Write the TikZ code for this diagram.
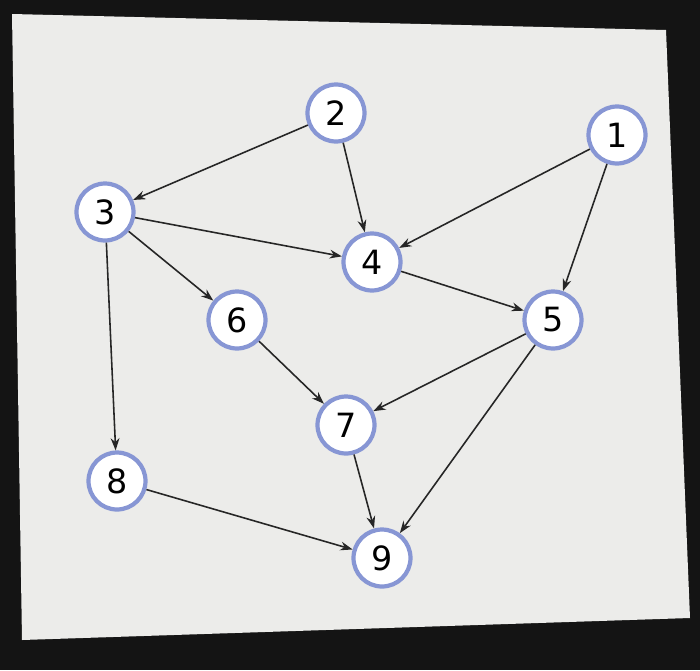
\documentclass[tikz,border=0pt]{standalone}
\usepackage{fontspec}
\setmainfont{DejaVu Sans}
\usetikzlibrary{arrows.meta}
\definecolor{ring}{RGB}{135,150,212}
\definecolor{screen}{RGB}{236,236,234}
\begin{document}
\begin{tikzpicture}[x=0.02cm,y=-0.02cm,
  vtx/.style={circle,draw=ring,line width=2.4pt,fill=white,minimum size=1.14cm,inner sep=0pt,font=\fontsize{19}{22}\selectfont},
  edge/.style={-{Stealth[length=7pt,width=5pt]},line width=0.9pt,black!85}]
\fill[black!92] (0,0) rectangle (700,670);
\fill[screen] (12,14) -- (666,30) -- (690,618) -- (22,640) -- cycle;
\node[vtx] (n2) at (336,113) {2};
\node[vtx] (n1) at (617,135) {1};
\node[vtx] (n3) at (105,212) {3};
\node[vtx] (n4) at (372,262) {4};
\node[vtx] (n6) at (237,320) {6};
\node[vtx] (n5) at (553,320) {5};
\node[vtx] (n7) at (346,425) {7};
\node[vtx] (n8) at (117,481) {8};
\node[vtx] (n9) at (382,558) {9};
\draw[edge] (n2) -- (n3);
\draw[edge] (n2) -- (n4);
\draw[edge] (n1) -- (n4);
\draw[edge] (n1) -- (n5);
\draw[edge] (n3) -- (n4);
\draw[edge] (n3) -- (n6);
\draw[edge] (n3) -- (n8);
\draw[edge] (n4) -- (n5);
\draw[edge] (n6) -- (n7);
\draw[edge] (n5) -- (n7);
\draw[edge] (n5) -- (n9);
\draw[edge] (n7) -- (n9);
\draw[edge] (n8) -- (n9);
\end{tikzpicture}
\end{document}
